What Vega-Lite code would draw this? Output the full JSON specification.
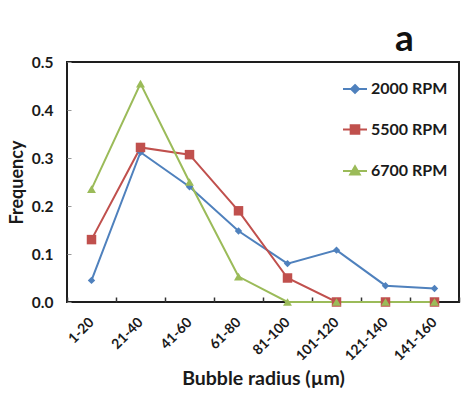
{
  "$schema": "https://vega.github.io/schema/vega-lite/v6.json",
  "width": 392,
  "height": 240,
  "autosize": {"type": "none"},
  "padding": {"left": 67, "top": 62, "right": 15, "bottom": 93},
  "background": "white",
  "config": {
    "font": "Lato",
    "view": {"stroke": "#1e1e1e", "strokeWidth": 2},
    "axis": {"grid": false, "domain": false, "labelFont": "Lato", "titleFont": "Lato", "labelFontWeight": "bold", "titleFontWeight": "bold", "labelColor": "#1a1a1a", "titleColor": "#1a1a1a"}
  },
  "title": {"text": "a", "fontSize": 37, "fontWeight": "bold", "font": "Lato", "anchor": "end", "baseline": "alphabetic", "dx": -46, "dy": 45, "offset": 12, "color": "#111"},
  "data": {
    "values": [
      {"bin": "1-20", "series": "2000 RPM", "freq": 0.045},
      {"bin": "21-40", "series": "2000 RPM", "freq": 0.312},
      {"bin": "41-60", "series": "2000 RPM", "freq": 0.24},
      {"bin": "61-80", "series": "2000 RPM", "freq": 0.148},
      {"bin": "81-100", "series": "2000 RPM", "freq": 0.08},
      {"bin": "101-120", "series": "2000 RPM", "freq": 0.108},
      {"bin": "121-140", "series": "2000 RPM", "freq": 0.034},
      {"bin": "141-160", "series": "2000 RPM", "freq": 0.028},
      {"bin": "1-20", "series": "5500 RPM", "freq": 0.13},
      {"bin": "21-40", "series": "5500 RPM", "freq": 0.322},
      {"bin": "41-60", "series": "5500 RPM", "freq": 0.307},
      {"bin": "61-80", "series": "5500 RPM", "freq": 0.19},
      {"bin": "81-100", "series": "5500 RPM", "freq": 0.05},
      {"bin": "101-120", "series": "5500 RPM", "freq": 0.0},
      {"bin": "121-140", "series": "5500 RPM", "freq": 0.0},
      {"bin": "141-160", "series": "5500 RPM", "freq": 0.0},
      {"bin": "1-20", "series": "6700 RPM", "freq": 0.235},
      {"bin": "21-40", "series": "6700 RPM", "freq": 0.455},
      {"bin": "41-60", "series": "6700 RPM", "freq": 0.25},
      {"bin": "61-80", "series": "6700 RPM", "freq": 0.053},
      {"bin": "81-100", "series": "6700 RPM", "freq": 0.0},
      {"bin": "101-120", "series": "6700 RPM", "freq": 0.0},
      {"bin": "121-140", "series": "6700 RPM", "freq": 0.0},
      {"bin": "141-160", "series": "6700 RPM", "freq": 0.0}
    ]
  },
  "encoding": {
    "x": {
      "field": "bin", "type": "ordinal", "sort": null, "bandPosition": 0.5,
      "scale": {"type": "band", "paddingInner": 0, "paddingOuter": 0},
      "axis": {"title": "Bubble radius (µm)", "titleFontSize": 19.5, "titlePadding": 6, "labelAngle": -45, "labelAlign": "right", "labelBaseline": "middle", "labelFontSize": 14, "labelPadding": 23, "tickBand": "extent", "ticks": true, "tickSize": -5, "tickColor": "#333", "tickWidth": 1.5}
    },
    "y": {
      "field": "freq", "type": "quantitative",
      "scale": {"domain": [0, 0.5], "nice": false},
      "axis": {"title": "Frequency", "titleFontSize": 18, "titlePadding": 5, "values": [0, 0.1, 0.2, 0.3, 0.4, 0.5], "format": ".1f", "ticks": true, "tickSize": -4, "tickColor": "#999", "labelFontSize": 15.5, "labelPadding": 18}
    },
    "color": {
      "field": "series", "type": "nominal",
      "scale": {"domain": ["2000 RPM", "5500 RPM", "6700 RPM"], "range": ["#4f81bd", "#c0504d", "#9bbb59"]},
      "legend": {
        "title": null, "orient": "none", "legendX": 275, "legendY": 14,
        "symbolSize": 576, "labelFontSize": 16, "labelFontWeight": "bold", "labelFont": "Lato", "labelColor": "#1a1a1a",
        "labelOffset": 3, "rowPadding": 19.5,
        "encode": {
          "symbols": {
            "update": {
              "shape": {"signal": "datum.value === '2000 RPM' ? 'M-1,0H1M0,-0.33L0.33,0L0,0.33L-0.33,0Z' : datum.value === '5500 RPM' ? 'M-1,0H1M-0.36,-0.36H0.36V0.36H-0.36Z' : 'M-1,0H1M0,-0.4L0.4,0.3L-0.4,0.3Z'"},
              "fill": {"scale": "color", "field": "value"},
              "stroke": {"scale": "color", "field": "value"},
              "strokeWidth": {"value": 2},
              "opacity": {"value": 1}
            }
          }
        }
      }
    }
  },
  "layer": [
    {"mark": {"type": "line", "strokeWidth": 2}},
    {
      "transform": [{"filter": "datum.series === '2000 RPM'"}],
      "mark": {"type": "point", "filled": true, "opacity": 1, "shape": "diamond", "size": 55}
    },
    {
      "transform": [{"filter": "datum.series === '5500 RPM'"}],
      "mark": {"type": "point", "filled": true, "opacity": 1, "shape": "square", "size": 90}
    },
    {
      "transform": [{"filter": "datum.series === '6700 RPM'"}],
      "mark": {"type": "point", "filled": true, "opacity": 1, "shape": "triangle-up", "size": 80}
    }
  ]
}
